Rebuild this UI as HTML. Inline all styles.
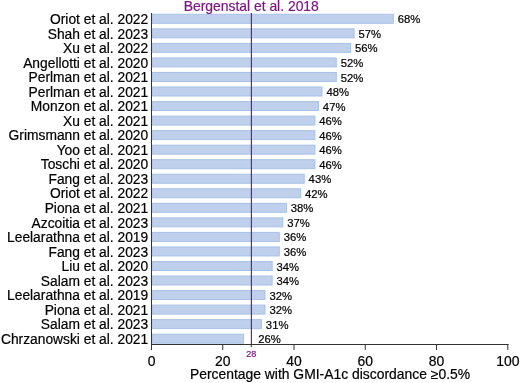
<!DOCTYPE html><html><head><meta charset="utf-8"><style>html,body{margin:0;padding:0;background:#fff;}svg{display:block;}text{font-family:"Liberation Sans",Arial,sans-serif;stroke-width:0.2px;}</style></head><body>
<svg width="520" height="383" viewBox="0 0 520 383">
<rect width="520" height="383" fill="#fff"/>
<rect x="152.00" y="14.30" width="241.28" height="9.00" fill="#bed0eb" stroke="#a8c1e7" stroke-width="1"/>
<rect x="152.00" y="28.84" width="202.09" height="9.00" fill="#bed0eb" stroke="#a8c1e7" stroke-width="1"/>
<rect x="152.00" y="43.38" width="198.53" height="9.00" fill="#bed0eb" stroke="#a8c1e7" stroke-width="1"/>
<rect x="152.00" y="57.92" width="184.28" height="9.00" fill="#bed0eb" stroke="#a8c1e7" stroke-width="1"/>
<rect x="152.00" y="72.46" width="184.28" height="9.00" fill="#bed0eb" stroke="#a8c1e7" stroke-width="1"/>
<rect x="152.00" y="87.00" width="170.02" height="9.00" fill="#bed0eb" stroke="#a8c1e7" stroke-width="1"/>
<rect x="152.00" y="101.54" width="166.46" height="9.00" fill="#bed0eb" stroke="#a8c1e7" stroke-width="1"/>
<rect x="152.00" y="116.08" width="162.90" height="9.00" fill="#bed0eb" stroke="#a8c1e7" stroke-width="1"/>
<rect x="152.00" y="130.62" width="162.90" height="9.00" fill="#bed0eb" stroke="#a8c1e7" stroke-width="1"/>
<rect x="152.00" y="145.16" width="162.90" height="9.00" fill="#bed0eb" stroke="#a8c1e7" stroke-width="1"/>
<rect x="152.00" y="159.70" width="162.90" height="9.00" fill="#bed0eb" stroke="#a8c1e7" stroke-width="1"/>
<rect x="152.00" y="174.24" width="152.21" height="9.00" fill="#bed0eb" stroke="#a8c1e7" stroke-width="1"/>
<rect x="152.00" y="188.78" width="148.65" height="9.00" fill="#bed0eb" stroke="#a8c1e7" stroke-width="1"/>
<rect x="152.00" y="203.32" width="134.39" height="9.00" fill="#bed0eb" stroke="#a8c1e7" stroke-width="1"/>
<rect x="152.00" y="217.86" width="130.83" height="9.00" fill="#bed0eb" stroke="#a8c1e7" stroke-width="1"/>
<rect x="152.00" y="232.40" width="127.27" height="9.00" fill="#bed0eb" stroke="#a8c1e7" stroke-width="1"/>
<rect x="152.00" y="246.94" width="127.27" height="9.00" fill="#bed0eb" stroke="#a8c1e7" stroke-width="1"/>
<rect x="152.00" y="261.48" width="120.14" height="9.00" fill="#bed0eb" stroke="#a8c1e7" stroke-width="1"/>
<rect x="152.00" y="276.02" width="120.14" height="9.00" fill="#bed0eb" stroke="#a8c1e7" stroke-width="1"/>
<rect x="152.00" y="290.56" width="113.02" height="9.00" fill="#bed0eb" stroke="#a8c1e7" stroke-width="1"/>
<rect x="152.00" y="305.10" width="113.02" height="9.00" fill="#bed0eb" stroke="#a8c1e7" stroke-width="1"/>
<rect x="152.00" y="319.64" width="109.45" height="9.00" fill="#bed0eb" stroke="#a8c1e7" stroke-width="1"/>
<rect x="152.00" y="334.18" width="91.64" height="9.00" fill="#bed0eb" stroke="#a8c1e7" stroke-width="1"/>
<line x1="251.4" y1="13" x2="251.4" y2="344" stroke="#7d1783" stroke-width="1.15"/>
<text x="148.2" y="24.00" font-size="13.8" text-anchor="end" fill="#000" stroke="#000">Oriot et al. 2022</text>
<text x="397.68" y="23.35" font-size="11.3" fill="#000" stroke="#000">68%</text>
<text x="148.2" y="38.54" font-size="13.8" text-anchor="end" fill="#000" stroke="#000">Shah et al. 2023</text>
<text x="358.49" y="37.89" font-size="11.3" fill="#000" stroke="#000">57%</text>
<text x="148.2" y="53.08" font-size="13.8" text-anchor="end" fill="#000" stroke="#000">Xu et al. 2022</text>
<text x="354.93" y="52.43" font-size="11.3" fill="#000" stroke="#000">56%</text>
<text x="148.2" y="67.62" font-size="13.8" text-anchor="end" fill="#000" stroke="#000">Angellotti et al. 2020</text>
<text x="340.68" y="66.97" font-size="11.3" fill="#000" stroke="#000">52%</text>
<text x="148.2" y="82.16" font-size="13.8" text-anchor="end" fill="#000" stroke="#000">Perlman et al. 2021</text>
<text x="340.68" y="81.51" font-size="11.3" fill="#000" stroke="#000">52%</text>
<text x="148.2" y="96.70" font-size="13.8" text-anchor="end" fill="#000" stroke="#000">Perlman et al. 2021</text>
<text x="326.42" y="96.05" font-size="11.3" fill="#000" stroke="#000">48%</text>
<text x="148.2" y="111.24" font-size="13.8" text-anchor="end" fill="#000" stroke="#000">Monzon et al. 2021</text>
<text x="322.86" y="110.59" font-size="11.3" fill="#000" stroke="#000">47%</text>
<text x="148.2" y="125.78" font-size="13.8" text-anchor="end" fill="#000" stroke="#000">Xu et al. 2021</text>
<text x="319.30" y="125.13" font-size="11.3" fill="#000" stroke="#000">46%</text>
<text x="148.2" y="140.32" font-size="13.8" text-anchor="end" fill="#000" stroke="#000">Grimsmann et al. 2020</text>
<text x="319.30" y="139.67" font-size="11.3" fill="#000" stroke="#000">46%</text>
<text x="148.2" y="154.86" font-size="13.8" text-anchor="end" fill="#000" stroke="#000">Yoo et al. 2021</text>
<text x="319.30" y="154.21" font-size="11.3" fill="#000" stroke="#000">46%</text>
<text x="148.2" y="169.40" font-size="13.8" text-anchor="end" fill="#000" stroke="#000">Toschi et al. 2020</text>
<text x="319.30" y="168.75" font-size="11.3" fill="#000" stroke="#000">46%</text>
<text x="148.2" y="183.94" font-size="13.8" text-anchor="end" fill="#000" stroke="#000">Fang et al. 2023</text>
<text x="308.61" y="183.29" font-size="11.3" fill="#000" stroke="#000">43%</text>
<text x="148.2" y="198.48" font-size="13.8" text-anchor="end" fill="#000" stroke="#000">Oriot et al. 2022</text>
<text x="305.05" y="197.83" font-size="11.3" fill="#000" stroke="#000">42%</text>
<text x="148.2" y="213.02" font-size="13.8" text-anchor="end" fill="#000" stroke="#000">Piona et al. 2021</text>
<text x="290.79" y="212.37" font-size="11.3" fill="#000" stroke="#000">38%</text>
<text x="148.2" y="227.56" font-size="13.8" text-anchor="end" fill="#000" stroke="#000">Azcoitia et al. 2023</text>
<text x="287.23" y="226.91" font-size="11.3" fill="#000" stroke="#000">37%</text>
<text x="148.2" y="242.10" font-size="13.8" text-anchor="end" fill="#000" stroke="#000">Leelarathna et al. 2019</text>
<text x="283.67" y="241.45" font-size="11.3" fill="#000" stroke="#000">36%</text>
<text x="148.2" y="256.64" font-size="13.8" text-anchor="end" fill="#000" stroke="#000">Fang et al. 2023</text>
<text x="283.67" y="255.99" font-size="11.3" fill="#000" stroke="#000">36%</text>
<text x="148.2" y="271.18" font-size="13.8" text-anchor="end" fill="#000" stroke="#000">Liu et al. 2020</text>
<text x="276.54" y="270.53" font-size="11.3" fill="#000" stroke="#000">34%</text>
<text x="148.2" y="285.72" font-size="13.8" text-anchor="end" fill="#000" stroke="#000">Salam et al. 2023</text>
<text x="276.54" y="285.07" font-size="11.3" fill="#000" stroke="#000">34%</text>
<text x="148.2" y="300.26" font-size="13.8" text-anchor="end" fill="#000" stroke="#000">Leelarathna et al. 2019</text>
<text x="269.42" y="299.61" font-size="11.3" fill="#000" stroke="#000">32%</text>
<text x="148.2" y="314.80" font-size="13.8" text-anchor="end" fill="#000" stroke="#000">Piona et al. 2021</text>
<text x="269.42" y="314.15" font-size="11.3" fill="#000" stroke="#000">32%</text>
<text x="148.2" y="329.34" font-size="13.8" text-anchor="end" fill="#000" stroke="#000">Salam et al. 2023</text>
<text x="265.85" y="328.69" font-size="11.3" fill="#000" stroke="#000">31%</text>
<text x="148.2" y="343.88" font-size="13.8" text-anchor="end" fill="#000" stroke="#000">Chrzanowski et al. 2021</text>
<text x="258.30" y="343.23" font-size="11.3" fill="#000" stroke="#000">26%</text>
<line x1="151.5" y1="13" x2="151.5" y2="344.5" stroke="#333" stroke-width="1"/>
<line x1="151" y1="344.5" x2="508.5" y2="344.5" stroke="#333" stroke-width="1"/>
<line x1="151.50" y1="344" x2="151.50" y2="350" stroke="#333" stroke-width="1"/>
<text x="151.50" y="365.5" font-size="13.9" text-anchor="middle" fill="#000" stroke="#000">0</text>
<line x1="222.76" y1="344" x2="222.76" y2="350" stroke="#333" stroke-width="1"/>
<text x="222.76" y="365.5" font-size="13.9" text-anchor="middle" fill="#000" stroke="#000">20</text>
<line x1="294.02" y1="344" x2="294.02" y2="350" stroke="#333" stroke-width="1"/>
<text x="294.02" y="365.5" font-size="13.9" text-anchor="middle" fill="#000" stroke="#000">40</text>
<line x1="365.28" y1="344" x2="365.28" y2="350" stroke="#333" stroke-width="1"/>
<text x="365.28" y="365.5" font-size="13.9" text-anchor="middle" fill="#000" stroke="#000">60</text>
<line x1="436.54" y1="344" x2="436.54" y2="350" stroke="#333" stroke-width="1"/>
<text x="436.54" y="365.5" font-size="13.9" text-anchor="middle" fill="#000" stroke="#000">80</text>
<line x1="507.80" y1="344" x2="507.80" y2="350" stroke="#333" stroke-width="1"/>
<text x="507.80" y="365.5" font-size="13.9" text-anchor="middle" fill="#000" stroke="#000">100</text>
<line x1="251.26" y1="344" x2="251.26" y2="347" stroke="#333" stroke-width="1"/>
<text x="251.26" y="357.1" font-size="9" text-anchor="middle" fill="#7d1783" stroke="#7d1783">28</text>
<text x="251.26" y="10.5" font-size="13.9" text-anchor="middle" fill="#7d1783" stroke="#7d1783">Bergenstal et al. 2018</text>
<text x="330" y="379.3" font-size="13.9" text-anchor="middle" fill="#000" stroke="#000">Percentage with GMI-A1c discordance ≥0.5%</text>
</svg></body></html>
